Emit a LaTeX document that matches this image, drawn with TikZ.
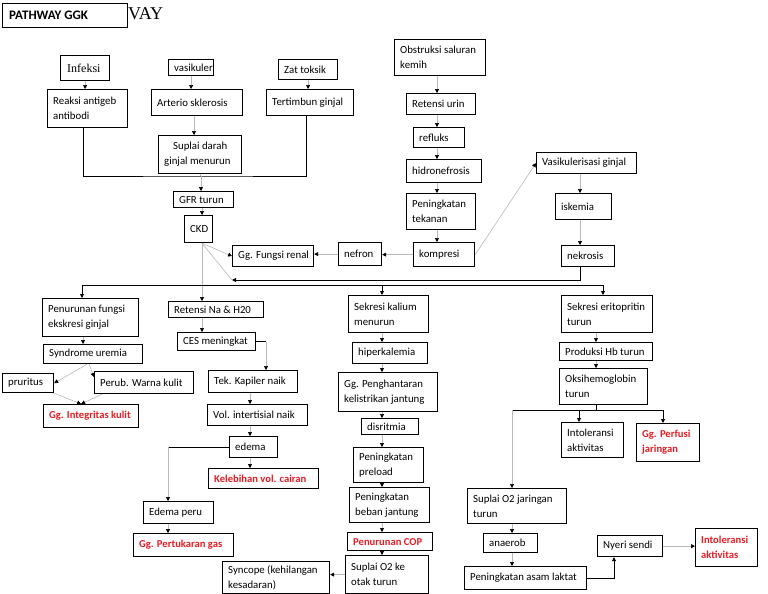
\documentclass[tikz,border=0pt]{standalone}
\usepackage{fontspec}
\setmainfont{Carlito}
\newfontfamily\seriff{Liberation Serif}
\usetikzlibrary{arrows.meta,calc}
\definecolor{rtxt}{RGB}{232,28,36}
\newcommand\bx[7][]{%
  \pgfmathsetmacro\bw{#5-#3}\pgfmathsetmacro\bh{#6-#4}%
  \node[box,minimum width=\bw pt,minimum height=\bh pt,anchor=north west] (#2) at (#3,#4) {};
  \node[lbl,#1,anchor=west] (#2t) at ([xshift=6pt]#2.west) {#7};}
\begin{document}
\begin{tikzpicture}[x=1pt,y=-1pt,
  box/.style={draw=black,line width=1.2pt,inner sep=0pt,fill=white},
  lbl/.style={inner sep=0pt,align=left,font=\fontsize{10.8}{15}\selectfont},
  redt/.style={text=rtxt,font=\fontsize{10.6}{15}\selectfont\bfseries},
  ga/.style={draw=gray!55,line width=0.6pt,-{Triangle[length=4pt,width=4pt,color=black]}},
  gl/.style={draw=gray!55,line width=0.6pt},
  bl/.style={draw=black,line width=0.9pt},
  ba/.style={bl,-{Triangle[length=4pt,width=4pt]}}]
\useasboundingbox[fill=white] (0,0) rectangle (768,594);
% title
\node[anchor=base west,inner sep=0pt,font=\seriff\fontsize{18}{18}\selectfont] (vay) at (128,19.5) {VAY};
\bx[font=\fontsize{13}{14}\selectfont\bfseries,xshift=1pt]{title}{2}{3}{127}{27}{PATHWAY GGK}
% top row
\bx[font=\seriff\fontsize{12}{14}\selectfont,xshift=1pt]{inf}{60}{55}{109}{80}{Infeksi}
\bx{vas}{168}{59}{213}{75}{vasikuler}
\bx{zat}{278}{59}{337}{79}{Zat toksik}
\bx{reak}{47}{89}{127}{127}{Reaksi antigeb\\antibodi}
\bx{art}{151}{89}{242}{115}{Arterio sklerosis}
\bx{tert}{266}{89}{353}{115}{Tertimbun ginjal}
\bx{sup}{158}{135}{241}{173}{\hspace*{9pt}Suplai darah\\ginjal menurun}
\bx{gfr}{173}{191}{233}{207}{GFR turun}
\bx{ckd}{184}{215}{212}{242}{CKD}
\bx{ggf}{232}{245}{313}{266}{Gg. Fungsi renal}
\bx{nef}{338}{242}{381}{265}{nefron}
\bx{komp}{413}{242}{474}{266}{kompresi}
\bx{obs}{394}{39}{485}{75}{Obstruksi saluran\\kemih}
\bx{ret}{406}{93}{475}{114}{Retensi urin}
\bx{ref}{413}{127}{464}{147}{refluks}
\bx{hid}{406}{159}{481}{182}{hidronefrosis}
\bx{pent}{406}{193}{475}{229}{Peningkatan\\tekanan}
\bx{vask}{536}{152}{636}{173}{Vasikulerisasi ginjal}
\bx{isk}{555}{193}{611}{219}{iskemia}
\bx{nek}{561}{245}{614}{266}{nekrosis}
% second level
\bx{pfe}{42}{298}{138}{336}{Penurunan fungsi\\ekskresi ginjal}
\bx{rna}{168}{301}{263}{317}{Retensi Na \& H20}
\bx{kal}{348}{295}{428}{332}{Sekresi kalium\\menurun}
\bx{eri}{561}{295}{652}{332}{Sekresi eritopritin\\turun}
\bx{syn}{43}{344}{142}{363}{Syndrome uremia}
\bx{ces}{177}{332}{255}{350}{CES meningkat}
\bx{hip}{352}{342}{427}{363}{hiperkalemia}
\bx{prod}{559}{342}{652}{360}{Produksi Hb turun}
\bx{prur}{2}{373}{53}{392}{pruritus}
\bx{perub}{94}{371}{193}{393}{Perub. Warna kulit}
\bx{tek}{208}{370}{297}{392}{Tek. Kapiler naik}
\bx{ghj}{338}{372}{437}{411}{Gg. Penghantaran\\kelistrikan jantung}
\bx{oksi}{559}{368}{647}{404}{Oksihemoglobin\\turun}
\bx[redt]{integ}{43}{404}{138}{427}{Gg. Integritas kulit}
\bx{vol}{207}{404}{307}{425}{Vol. intertisial naik}
\bx{dis}{361}{418}{418}{434}{disritmia}
\bx{intol}{561}{422}{623}{457}{Intoleransi\\aktivitas}
\bx[redt]{perf}{636}{423}{699}{461}{Gg. Perfusi\\jaringan}
\bx{ede}{229}{436}{277}{457}{edema}
\bx{pre}{353}{447}{423}{482}{Peningkatan\\preload}
\bx[redt]{kel}{208}{468}{318}{488}{Kelebihan vol. cairan}
\bx{bj}{349}{487}{429}{522}{Peningkatan\\beban jantung}
\bx{sjt}{467}{488}{566}{523}{Suplai O2 jaringan\\turun}
\bx{eper}{143}{501}{213}{523}{Edema peru}
\bx[redt]{cop}{347}{532}{432}{550}{Penurunan COP}
\bx{anae}{483}{533}{537}{552}{anaerob}
\bx{nyeri}{597}{535}{662}{556}{Nyeri sendi}
\bx[redt]{intolb}{695}{528}{757}{566}{Intoleransi\\aktivitas}
\bx[redt]{gpg}{133}{533}{233}{556}{Gg. Pertukaran gas}
\bx{soo}{345}{555}{428}{593}{Suplai O2 ke\\otak turun}
\bx{sync}{222}{561}{329}{593}{Syncope (kehilangan\\kesadaran)}
\bx{asam}{464}{566}{586}{589}{Peningkatan asam laktat}
% column coordinates
\coordinate (xL) at (83,0);
\coordinate (xS) at (194,0);
\coordinate (xT) at (306,0);
\coordinate (xC) at (202,0);
\coordinate (xO) at (437,0);
\coordinate (xR) at (580,0);
\coordinate (xK) at (382,0);
\coordinate (xH) at (596,0);
\coordinate (xE) at (250,0);
\coordinate (xP) at (168,0);
\coordinate (xT2) at (266,0);
\coordinate (xA) at (512,0);
\coordinate (xN) at (614,0);
\coordinate (m1) at (201,176);
\coordinate (nk) at (232,280);
\coordinate (h1) at (82,285);
\coordinate (h2) at (603,285);
\coordinate (b1) at (512,410);
\coordinate (b2) at (663,410);
\coordinate (b3) at (579,410);
% top connectors
\draw[ga] (inf.south) -- (inf.south |- reak.north);
\draw[ga] (vas.south) -- (vas.south |- art.north);
\draw[ga] (zat.south) -- (zat.south |- tert.north);
\draw[ga] (art.south -| xS) -- (sup.north -| xS);
\draw[bl] (reak.south -| xL) |- (m1) -| (tert.south -| xT);
\draw[gl] (sup.south) -- (sup.south |- m1);
\draw[ga] (m1) -- (m1 |- gfr.north);
\draw[ga] (gfr.south -| xC) -- (ckd.north -| xC);
\draw[ga] (ckd.south -| xC) -- (ggf.west);
\draw[gl] (ckd.south -| xC) -- (nk);
\draw[ga] (ckd.south -| xC) -- (rna.north -| xC);
\draw[bl] (h1) -- (h2);
\draw[ba] (h1) -- (pfe.north -| h1);
\draw[ba] (h2) -- (eri.north -| h2);
\draw[ba] (h1 -| xK) -- (kal.north -| xK);
\draw[ba] (nek.south -| xR) |- (nk);
% obstruction column
\draw[ga] (obs.south -| xO) -- (ret.north -| xO);
\draw[ga] (ret.south -| xO) -- (ref.north -| xO);
\draw[ga] (ref.south -| xO) -- (hid.north -| xO);
\draw[ga] (hid.south -| xO) -- (pent.north -| xO);
\draw[ga] (pent.south -| xO) -- (komp.north -| xO);
\draw[ga] (komp.west) -- (komp.west -| nef.east);
\draw[ga] (nef.west) -- (nef.west -| ggf.east);
\draw[ga] (komp.east) -- (vask.west);
\draw[ga] (vask.south -| xR) -- (isk.north -| xR);
\draw[ga] (isk.south -| xR) -- (nek.north -| xR);
% left column
\draw[ga] (pfe.south -| xL) -- (syn.north -| xL);
\draw[ga] ([xshift=-6pt]syn.south) -- (prur.east);
\draw[ga] ([xshift=-4pt]syn.south) -- ([yshift=-6pt]perub.north west);
\draw[ga] (prur.south east) -- ([xshift=-10pt]integ.north);
\draw[ga] ([xshift=8pt]perub.south west) -- ([xshift=-10pt]integ.north);
% fluid column
\draw[ga] (rna.south -| xC) -- (ces.north -| xC);
\draw[bl] (ces.east) -- (ces.east -| xT2);
\draw[ga] (ces.east -| xT2) -- (tek.north -| xT2);
\draw[ga] (tek.south -| xE) -- (vol.north -| xE);
\draw[ga] (vol.south -| xE) -- (ede.north -| xE);
\draw[ga] (ede.south -| xE) -- (kel.north -| xE);
\draw[bl] (ede.west) -- (ede.west -| xP);
\draw[ga] (ede.west -| xP) -- (eper.north -| xP);
\draw[ga] (eper.south -| xP) -- (gpg.north -| xP);
% kalium column
\draw[ga] (kal.south -| xK) -- (hip.north -| xK);
\draw[ga] (hip.south -| xK) -- (ghj.north -| xK);
\draw[ga] (ghj.south -| xK) -- (dis.north -| xK);
\draw[ga] (dis.south -| xK) -- (pre.north -| xK);
\draw[ga] (pre.south -| xK) -- (bj.north -| xK);
\draw[ga] (bj.south -| xK) -- (cop.north -| xK);
\draw[ga] (cop.south -| xK) -- (soo.north -| xK);
\draw[ga] (soo.west) -- (soo.west -| sync.east);
% eritropoietin column
\draw[ga] (eri.south -| xH) -- (prod.north -| xH);
\draw[ga] (prod.south -| xH) -- (oksi.north -| xH);
\draw[bl] (oksi.south -| xH) -- (b1 -| xH);
\draw[bl] (b1) -- (b2);
\draw[ba] (b3) -- (intol.north -| b3);
\draw[ba] (b2) -- (perf.north -| b2);
\draw[ga] (b1) -- (sjt.north -| b1);
\draw[ga] (sjt.south -| xA) -- (anae.north -| xA);
\draw[ga] (anae.south -| xA) -- (asam.north -| xA);
\draw[ba] (asam.east) -| (nyeri.south -| xN);
\draw[ga] (nyeri.east) -- (nyeri.east -| intolb.west);
\end{tikzpicture}
\end{document}
